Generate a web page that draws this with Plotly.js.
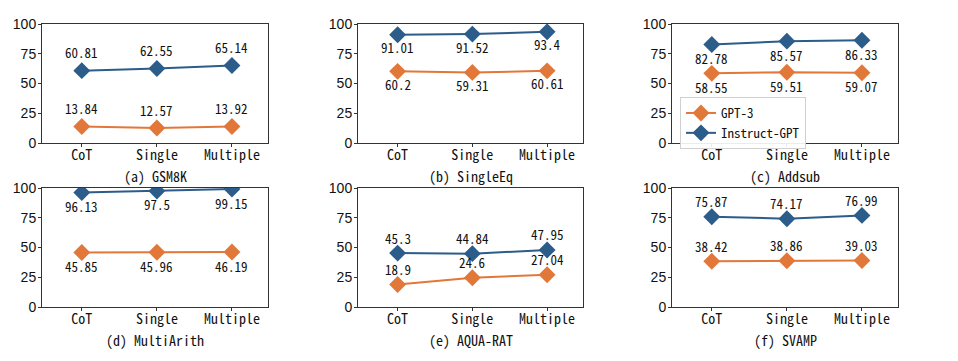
<!DOCTYPE html>
<html><head><meta charset="utf-8">
<script src="https://cdn.plot.ly/plotly-3.0.1.min.js"></script>
<style>html,body{margin:0;padding:0;background:#fff}#chart{width:958px;height:361px}</style>
</head><body><div id="chart"></div>
<script>
const categories = ["CoT", "Single", "Multiple"];
const datasets = ["GSM8K", "SingleEq", "Addsub", "MultiArith", "AQUA-RAT", "SVAMP"];
const captions = ["(a) GSM8K", "(b) SingleEq", "(c) Addsub", "(d) MultiArith", "(e) AQUA-RAT", "(f) SVAMP"];
const gpt3 = [
  [13.84, 12.57, 13.92],
  [60.2, 59.31, 60.61],
  [58.55, 59.51, 59.07],
  [45.85, 45.96, 46.19],
  [18.9, 24.6, 27.04],
  [38.42, 38.86, 39.03]
];
const instruct = [
  [60.81, 62.55, 65.14],
  [91.01, 91.52, 93.4],
  [82.78, 85.57, 86.33],
  [96.13, 97.5, 99.15],
  [45.3, 44.84, 47.95],
  [75.87, 74.17, 76.99]
];
const seriesNames = ["GPT-3", "Instruct-GPT"];
const yTicks = [0, 25, 50, 75, 100];

const W = 958, H = 361;
const colPx = [[42, 268], [358, 583], [672, 898]];
const rowPx = [[24, 143], [188, 307]];
const capY = [176, 340];
const labelShift = [18, -13, -14, -14, 15, 15];
const orange = "#e2773a", blue = "#2b5c8a";
const mono = "'Noto Sans Mono CJK SC', 'DejaVu Sans Mono', monospace";
const sans = "'Liberation Sans', Arial, sans-serif";

const data = [], annotations = [];
const layout = {
  width: W, height: H, margin: {l: 0, r: 0, t: 0, b: 0},
  paper_bgcolor: "#fff", plot_bgcolor: "#fff", showlegend: true,
  legend: {x: 680 / W, y: 1 - 97 / H, xanchor: "left", yanchor: "top",
           bgcolor: "rgba(255,255,255,0.9)", bordercolor: "#d0d0d0", borderwidth: 1,
           font: {family: mono, size: 13, color: "#111"}, tracegroupgap: 0,
           itemwidth: 30, valign: "middle"},
  annotations: annotations
};

for (let i = 0; i < 6; i++) {
  const r = Math.floor(i / 3), c = i % 3;
  const ax = i === 0 ? "" : String(i + 1);
  const xa = "xaxis" + ax, ya = "yaxis" + ax;
  layout[xa] = {
    domain: [colPx[c][0] / W, colPx[c][1] / W], range: [-0.53, 2.48], anchor: "y" + ax,
    type: "category", tickvals: categories, ticktext: categories,
    showgrid: false, zeroline: false, showline: true, mirror: true,
    linecolor: "#333", linewidth: 1, ticks: "outside", ticklen: 3, tickcolor: "#333",
    ticklabelstandoff: -4,
    tickfont: {family: mono, size: 14, color: "#111"}, fixedrange: true
  };
  layout[ya] = {
    domain: [1 - rowPx[r][1] / H, 1 - rowPx[r][0] / H], range: [0, 100], anchor: "x" + ax,
    tickvals: yTicks, ticktext: yTicks.map(String),
    showgrid: false, zeroline: false, showline: true, mirror: true,
    linecolor: "#333", linewidth: 1, ticks: "outside", ticklen: 3, tickcolor: "#333",
    ticklabelstandoff: -1,
    tickfont: {family: sans, size: 14, color: "#111"}, fixedrange: true
  };
  const series = [gpt3[i], instruct[i]];
  const colors = [orange, blue];
  for (let s = 0; s < 2; s++) {
    data.push({
      x: categories, y: series[s], xaxis: "x" + ax, yaxis: "y" + ax,
      type: "scatter", mode: "lines+markers", name: seriesNames[s],
      line: {color: colors[s], width: 2},
      marker: {symbol: "diamond", size: 13, color: colors[s]},
      showlegend: i === 2, hoverinfo: "skip"
    });
    series[s].forEach((v, k) => {
      annotations.push({
        x: categories[k], y: v, xref: "x" + ax, yref: "y" + ax,
        text: String(v), showarrow: false,
        yshift: labelShift[i],
        font: {family: mono, size: 13, color: "#111"}
      });
    });
  }
  annotations.push({
    x: (colPx[c][0] + colPx[c][1]) / 2 / W, y: 1 - capY[r] / H, xref: "paper", yref: "paper",
    text: captions[i], showarrow: false, xanchor: "center", yanchor: "middle",
    font: {family: mono, size: 14, color: "#111"}
  });
}

Plotly.newPlot("chart", data, layout, {displayModeBar: false, staticPlot: true});
</script></body></html>
